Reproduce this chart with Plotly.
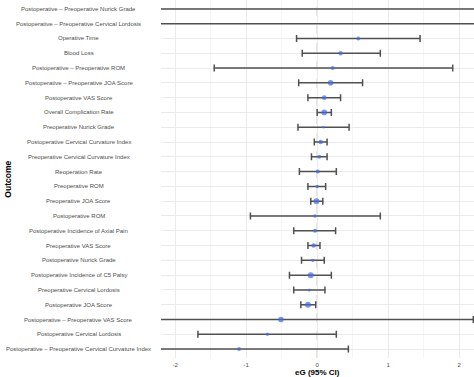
import plotly.graph_objects as go

outcomes = [
    "Postoperative \u2013 Preoperative Nurick Grade",
    "Postoperative \u2013 Preoperative Cervical Lordosis",
    "Operative Time",
    "Blood Loss",
    "Postoperative \u2013 Preoperative ROM",
    "Postoperative \u2013 Preoperative JOA Score",
    "Postoperative VAS Score",
    "Overall Complication Rate",
    "Preoperative Nurick Grade",
    "Postoperative Cervical Curvature Index",
    "Preoperative Cervical Curvature Index",
    "Reoperation Rate",
    "Preoperative ROM",
    "Preoperative JOA Score",
    "Postoperative ROM",
    "Postoperative Incidence of Axial Pain",
    "Preoperative VAS Score",
    "Postoperative Nurick Grade",
    "Postoperative Incidence of C5 Palsy",
    "Preoperative Cervical Lordosis",
    "Postoperative JOA Score",
    "Postoperative \u2013 Preoperative VAS Score",
    "Postoperative Cervical Lordosis",
    "Postoperative \u2013 Preoperative Cervical Curvature Index",
]
eg = [4.6, 3.2, 0.58, 0.33, 0.22, 0.19, 0.10, 0.10, 0.09, 0.05, 0.03, 0.01,
      0.00, -0.01, -0.03, -0.03, -0.05, -0.06, -0.09, -0.11, -0.13, -0.51, -0.70, -1.10]
ci_low = [-3.5, -2.9, -0.29, -0.21, -1.45, -0.26, -0.13, 0.00, -0.27, -0.04, -0.08, -0.25,
          -0.13, -0.09, -0.94, -0.33, -0.13, -0.22, -0.39, -0.33, -0.23, -3.2, -1.68, -2.65]
ci_high = [12.7, 9.3, 1.45, 0.89, 1.91, 0.64, 0.33, 0.20, 0.45, 0.14, 0.14, 0.27,
           0.12, 0.08, 0.89, 0.26, 0.04, 0.10, 0.20, 0.11, -0.02, 2.2, 0.27, 0.44]
weight = [4, 4, 4, 5, 4, 8, 6, 8, 1.6, 5, 4, 4,
          3, 9, 3, 4, 5, 3, 9, 2.3, 9, 8, 3, 4]
x_ticks = [-2, -1, 0, 1, 2]

n = len(outcomes)
ypos = [n - i for i in range(n)]
sizes = [2 * (w ** 0.5) for w in weight]

FONT = "Liberation Sans, Arial, sans-serif"
fig = go.Figure()
fig.add_shape(type="line", xref="x", yref="paper", x0=0, x1=0, y0=0, y1=1,
              line=dict(color="#b5b5b5", width=1, dash="dash"), layer="below")
fig.add_trace(go.Scatter(
    x=eg, y=ypos, mode="markers",
    marker=dict(color="#4169E1", size=sizes, line=dict(width=0)),
    error_x=dict(type="data", symmetric=False,
                 array=[h - e for h, e in zip(ci_high, eg)],
                 arrayminus=[e - l for e, l in zip(eg, ci_low)],
                 color="#505050", thickness=1.5, width=3.5),
    cliponaxis=True, showlegend=False, hoverinfo="skip",
))

for lab, y in zip(outcomes, ypos):
    fig.add_annotation(text=lab, x=-0.262, xref="paper", y=y, yref="y",
                       xanchor="center", yanchor="middle", showarrow=False,
                       font=dict(family=FONT, size=6, color="#4d4d4d"))

fig.add_annotation(text="<b>Outcome</b>", x=-0.49, xref="paper", y=0.5, yref="paper",
                   textangle=-90, showarrow=False, xanchor="center", yanchor="middle",
                   font=dict(family=FONT, size=8.5, color="black"))
fig.add_annotation(text="<b>eG (95% CI)</b>", x=0, xref="x", y=-0.04, yref="paper",
                   showarrow=False, xanchor="center", yanchor="middle",
                   font=dict(family=FONT, size=8, color="black"))

fig.update_layout(
    width=474, height=377,
    margin=dict(l=161, r=0, t=0, b=19),
    plot_bgcolor="white", paper_bgcolor="white",
    font=dict(family=FONT),
)
fig.update_xaxes(range=[-2.2, 2.21], tickvals=x_ticks, ticktext=[str(t) for t in x_ticks],
                 showgrid=True, gridcolor="#ebebeb", gridwidth=1, zeroline=False,
                 showline=False, ticks="", tickfont=dict(family=FONT, size=6, color="#4d4d4d"),
                 ticklabelstandoff=2,
                 minor=dict(dtick=0.5, tick0=0, showgrid=True, gridcolor="#f5f5f5", gridwidth=1))
fig.update_yaxes(range=[0.4, n + 0.6], tickvals=ypos, showticklabels=False,
                 showgrid=True, gridcolor="#ebebeb", gridwidth=1, zeroline=False,
                 showline=False, ticks="")

fig.write_html("out.html", config={"displayModeBar": False},
               post_script="document.body.style.margin='0';document.body.style.overflow='hidden';")
